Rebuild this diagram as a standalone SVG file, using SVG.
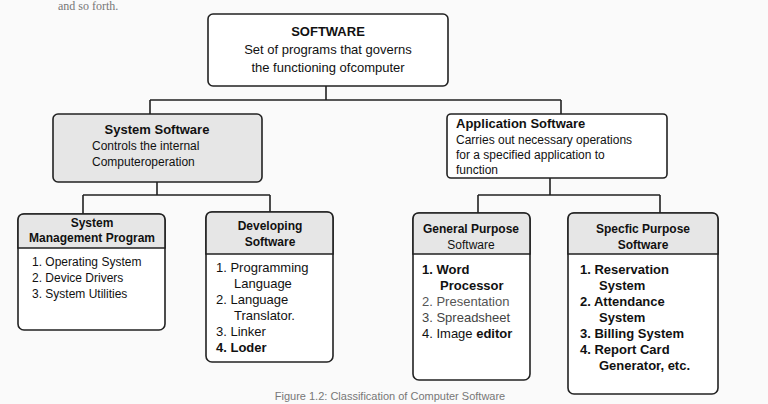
<svg xmlns="http://www.w3.org/2000/svg" width="768" height="404" viewBox="0 0 768 404">
<style>
.b{fill:#fff;stroke:#222;stroke-width:1.6}
.h{fill:#e6e6e6;stroke:#222;stroke-width:1.6}
.l{stroke:#222;stroke-width:1.6;fill:none}
text{font-family:"Liberation Sans",Arial,sans-serif;fill:#111}
.t{font-size:13px}
.s{font-size:12px}
.bo{font-weight:bold}
</style>
<rect width="768" height="404" fill="#fafafa"/>
<text x="58" y="10" style="font-family:'Liberation Serif',serif;font-size:12px;fill:#777">and so forth.</text>
<g id="connectors" class="l">
<path d="M326 86V100M150 100H561M150 100V115M561 100V115"/>
<path d="M157 182V195M83 195H270M83 195V214M270 195V212"/>
<path d="M550 178V195M478 195H660M478 195V213M660 195V213"/>
</g>
<g id="software">
<rect class="b" x="208" y="14" width="240" height="72" rx="5"/>
<text x="328" y="36" text-anchor="middle" class="t bo">SOFTWARE</text>
<text x="328" y="54" text-anchor="middle" class="t">Set of programs that governs</text>
<text x="328" y="72" text-anchor="middle" class="t">the functioning ofcomputer</text>
</g>
<g id="system">
<rect class="h" x="53" y="114" width="209" height="68" rx="5"/>
<text x="157" y="134" text-anchor="middle" class="t bo">System Software</text>
<text x="92" y="150" class="s">Controls the internal</text>
<text x="92" y="166" class="s">Computeroperation</text>
</g>
<g id="application">
<rect class="b" x="447" y="114" width="220" height="64" rx="4"/>
<text x="456" y="128" class="t bo">Application Software</text>
<text x="456" y="144" class="s">Carries out necessary operations</text>
<text x="456" y="159" class="s">for a specified application to</text>
<text x="456" y="174" class="s">function</text>
</g>
<g id="smp">
<rect class="b" x="18" y="214" width="147" height="116" rx="6"/>
<path class="h" d="M18 248V220Q18 214 24 214H159Q165 214 165 220V248Z"/>
<text x="92" y="227" text-anchor="middle" class="s bo" font-size="11">System</text>
<text x="92" y="242" text-anchor="middle" class="s bo" font-size="11">Management Program</text>
<text x="32" y="266" class="s">1. Operating System</text>
<text x="32" y="282" class="s">2. Device Drivers</text>
<text x="32" y="298" class="s">3. System Utilities</text>
</g>
<g id="dev">
<rect class="b" x="206" y="212" width="127" height="150" rx="6"/>
<path class="h" d="M206 254V218Q206 212 212 212H327Q333 212 333 218V254Z"/>
<text x="270" y="230" text-anchor="middle" class="s bo">Developing</text>
<text x="270" y="246" text-anchor="middle" class="s bo">Software</text>
<text x="216" y="272" class="t">1. Programming</text>
<text x="234" y="288" class="t">Language</text>
<text x="216" y="304" class="t">2. Language</text>
<text x="234" y="320" class="t">Translator.</text>
<text x="216" y="336" class="t">3. Linker</text>
<text x="216" y="352" class="t bo">4. Loder</text>
</g>
<g id="gp">
<rect class="b" x="413" y="213" width="117" height="167" rx="6"/>
<path class="h" d="M413 254V219Q413 213 419 213H524Q530 213 530 219V254Z"/>
<text x="471" y="233" text-anchor="middle" class="s bo" font-size="11">General Purpose</text>
<text x="471" y="249" text-anchor="middle" class="s" font-size="11">Software</text>
<text x="422" y="274" class="t bo">1. Word</text>
<text x="440" y="290" class="t bo">Processor</text>
<text x="422" y="306" class="t" style="fill:#555">2. Presentation</text>
<text x="422" y="322" class="t" style="fill:#444">3. Spreadsheet</text>
<text x="422" y="338" class="t">4. Image <tspan font-weight="bold">editor</tspan></text>
</g>
<g id="sp">
<rect class="b" x="568" y="213" width="150" height="181" rx="6"/>
<path class="h" d="M568 254V219Q568 213 574 213H712Q718 213 718 219V254Z"/>
<text x="643" y="233" text-anchor="middle" class="s bo" font-size="11">Specfic Purpose</text>
<text x="643" y="249" text-anchor="middle" class="s bo" font-size="11">Software</text>
<text x="580" y="274" class="t bo">1. Reservation</text>
<text x="599" y="290" class="t bo">System</text>
<text x="580" y="306" class="t bo">2. Attendance</text>
<text x="599" y="322" class="t bo">System</text>
<text x="580" y="338" class="t bo">3. Billing System</text>
<text x="580" y="354" class="t bo">4. Report Card</text>
<text x="599" y="370" class="t bo">Generator, etc.</text>
</g>
<text x="390" y="400" text-anchor="middle" style="font-size:11px;fill:#777">Figure 1.2: Classification of Computer Software</text>
</svg>
